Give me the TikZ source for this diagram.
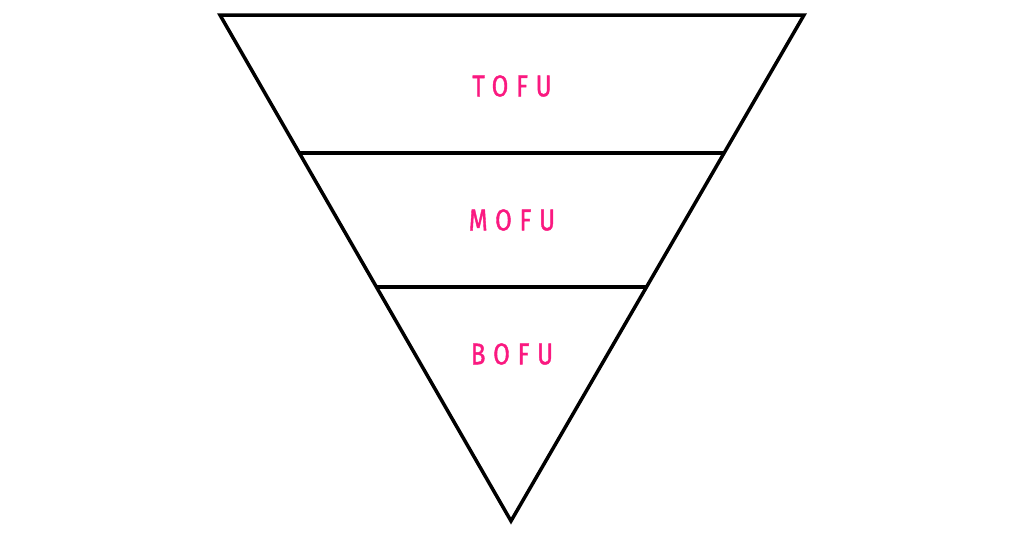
\documentclass[tikz,border=0pt]{standalone}
\usepackage{fontspec}
\usetikzlibrary{calc}
\newfontfamily\labfont[LetterSpace=26,FakeStretch=0.8,FakeBold=1.3]{Fira Sans}
\definecolor{funpink}{RGB}{250,25,128}
\begin{document}
\begin{tikzpicture}[x=1pt,y=-1pt,
  edge/.style={line width=3.5pt,line join=miter},
  lab/.style={text=funpink,font=\labfont\fontsize{30}{32}\selectfont,inner sep=0pt}]
\useasboundingbox (0,0) rectangle (1024,538);
\coordinate (tl) at (220,15);
\coordinate (tr) at (804,15);
\coordinate (bt) at (511,521);
\coordinate (m1l) at ($(tl)!{138/506}!(bt)$);
\coordinate (m1r) at ($(tr)!{138/506}!(bt)$);
\coordinate (m2l) at ($(tl)!{272/506}!(bt)$);
\coordinate (m2r) at ($(tr)!{272/506}!(bt)$);
\draw[edge] (tl) -- (tr) -- (bt) -- cycle;
\draw[edge] (m1l) -- (m1r);
\draw[edge] (m2l) -- (m2r);
\node[lab] (tofu) at (512,86) {TOFU};
\node[lab] (mofu) at (512,220) {MOFU};
\node[lab] (bofu) at (512,354) {BOFU};
\end{tikzpicture}
\end{document}
